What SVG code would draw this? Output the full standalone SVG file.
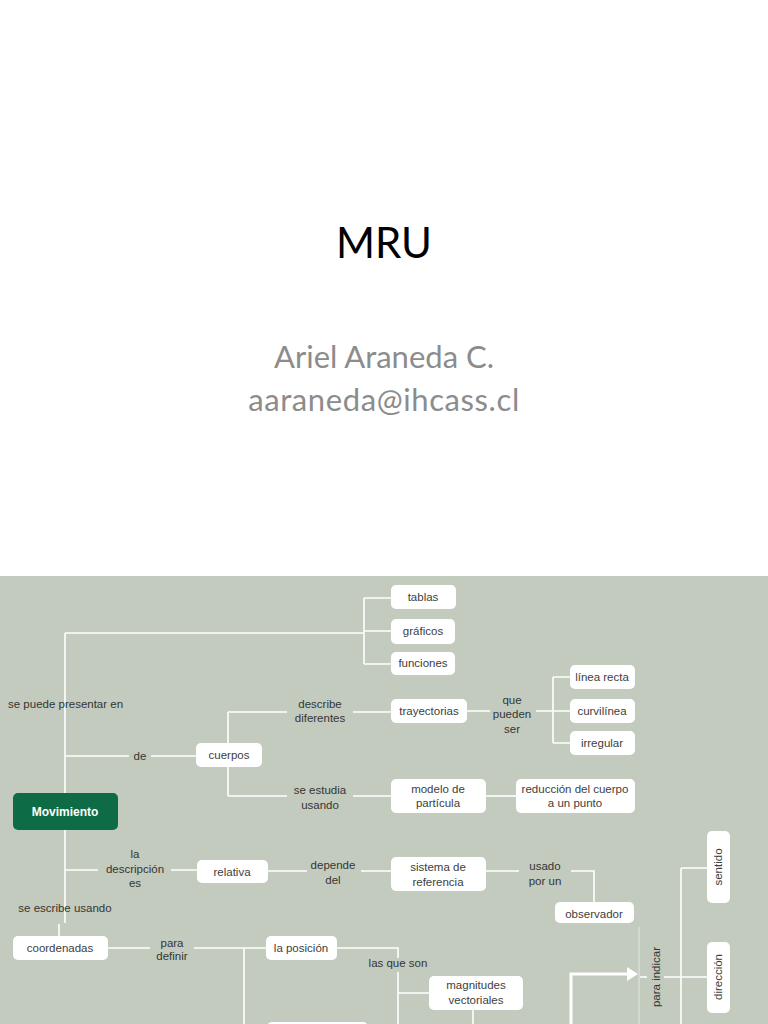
<svg xmlns="http://www.w3.org/2000/svg" width="768" height="1024" viewBox="0 0 768 1024">
<style>
.title{font-family:Lato,"Liberation Sans",sans-serif;fill:#000;font-size:42px;text-anchor:middle}
.sub{font-family:Lato,"Liberation Sans",sans-serif;fill:#8c8c8c;font-size:31px;text-anchor:middle}
.box{fill:#fff}
.t{font-family:"Liberation Sans",Arial,sans-serif;font-size:11.5px;fill:#404040;text-anchor:middle}
.lbl{font-family:"Liberation Sans",Arial,sans-serif;font-size:11.5px;fill:#353535;text-anchor:middle}
.ln{stroke:#fff;stroke-width:1.6;fill:none}
</style>
<rect x="0" y="0" width="768" height="576" fill="#fff"/>
<text class="title" x="384" y="258">MRU</text>
<text class="sub" x="384" y="368">Ariel Araneda C.</text>
<text class="sub" x="384" y="411" letter-spacing="0.6">aaraneda@ihcass.cl</text>
<rect x="0" y="576" width="768" height="448" fill="#c2cbbe"/>
<g id="connectors">
<path class="ln" d="M65 633 H364 M364 598 V664 M364 598 H391 M364 631 H391 M364 664 H391"/>
<path class="ln" d="M65 633 V923 M59 924 V936"/>
<path class="ln" d="M65 756 H129 M151 756 H196"/>
<path class="ln" d="M228 712 V796 M228 712 H287 M353 712 H391 M228 796 H287 M353 796 H391"/>
<path class="ln" d="M467 711 H490 M536 711 H553 M553 677 V743 M553 677 H570 M553 711 H570 M553 743 H570"/>
<path class="ln" d="M486 796 H516"/>
<path class="ln" d="M65 870 H98 M171 870 H197"/>
<path class="ln" d="M268 871 H307 M361 871 H391"/>
<path class="ln" d="M486 871 H519 M571 871 H594 V902"/>
<path class="ln" d="M108 948 H150 M194 948 H266 M244 948 V1024"/>
<path class="ln" d="M337 948 H398 V958 M398 972 V1024 M398 993 H429 M473 1010 V1024"/>
<path d="M639 927 V1024" stroke="#e3e8e0" stroke-width="1" fill="none"/>
<path d="M571 1024 V974 H629" stroke="#fff" stroke-width="3" fill="none"/>
<polygon points="627,967 638,974 627,981" fill="#fff"/>
<path class="ln" d="M640 977 H647 M664 977 H707 M681 868 V1024 M681 868 H707"/>
</g>
<g id="tablas"><rect class="box" x="391" y="585" width="65" height="24" rx="5"/><text class="t" x="423" y="601">tablas</text></g>
<g id="graficos"><rect class="box" x="391" y="619" width="64" height="25" rx="5"/><text class="t" x="423" y="635">gráficos</text></g>
<g id="funciones"><rect class="box" x="391" y="652" width="64" height="23" rx="5"/><text class="t" x="423" y="667">funciones</text></g>
<g id="trayectorias"><rect class="box" x="391" y="699" width="76" height="24" rx="5"/><text class="t" x="429" y="715">trayectorias</text></g>
<g id="linea-recta"><rect class="box" x="570" y="665" width="65" height="24" rx="5"/><text class="t" x="602" y="681">línea recta</text></g>
<g id="curvilinea"><rect class="box" x="570" y="699" width="65" height="24" rx="5"/><text class="t" x="602" y="715">curvilínea</text></g>
<g id="irregular"><rect class="box" x="570" y="731" width="65" height="24" rx="5"/><text class="t" x="602" y="747">irregular</text></g>
<g id="modelo"><rect class="box" x="391" y="779" width="95" height="34" rx="5"/><text class="t" x="438" y="793">modelo de</text><text class="t" x="438" y="807">partícula</text></g>
<g id="reduccion"><rect class="box" x="516" y="779" width="119" height="34" rx="5"/><text class="t" x="575" y="793">reducción del cuerpo</text><text class="t" x="575" y="807">a un punto</text></g>
<g id="cuerpos"><rect class="box" x="196" y="743" width="66" height="24" rx="5"/><text class="t" x="229" y="759">cuerpos</text></g>
<g id="movimiento"><rect x="13" y="793" width="105" height="37" rx="5" fill="#0d6b45"/><text x="65" y="816" font-family="'Liberation Sans',Arial,sans-serif" font-size="12" font-weight="bold" fill="#fff" text-anchor="middle">Movimiento</text></g>
<g id="relativa"><rect class="box" x="197" y="860" width="71" height="23" rx="5"/><text class="t" x="232" y="876">relativa</text></g>
<g id="sistema"><rect class="box" x="391" y="857" width="95" height="34" rx="5"/><text class="t" x="438" y="871">sistema de</text><text class="t" x="438" y="886">referencia</text></g>
<g id="observador"><rect class="box" x="555" y="902" width="79" height="21" rx="5"/><text class="t" x="594" y="918">observador</text></g>
<g id="coordenadas"><rect class="box" x="13" y="936" width="95" height="24" rx="5"/><text class="t" x="60" y="952">coordenadas</text></g>
<g id="posicion"><rect class="box" x="266" y="936" width="71" height="24" rx="5"/><text class="t" x="301" y="952">la posición</text></g>
<g id="magnitudes"><rect class="box" x="429" y="976" width="94" height="34" rx="5"/><text class="t" x="476" y="989">magnitudes</text><text class="t" x="476" y="1004">vectoriales</text></g>
<g id="bottom-box"><rect class="box" x="267" y="1022" width="101" height="10" rx="5"/></g>
<g id="sentido"><rect class="box" x="707" y="831" width="23" height="72" rx="5"/><text class="t" transform="translate(722 867) rotate(-90)" x="0" y="0">sentido</text></g>
<g id="direccion"><rect class="box" x="707" y="942" width="23" height="71" rx="5"/><text class="t" transform="translate(722 977) rotate(-90)" x="0" y="0">dirección</text></g>
<g id="labels">
<text class="lbl" x="8" y="708" style="text-anchor:start">se puede presentar en</text>
<text class="lbl" x="140" y="760">de</text>
<text class="lbl" x="320" y="708">describe</text><text class="lbl" x="320" y="722">diferentes</text>
<text class="lbl" x="320" y="794">se estudia</text><text class="lbl" x="320" y="809">usando</text>
<text class="lbl" x="512" y="704">que</text><text class="lbl" x="512" y="718">pueden</text><text class="lbl" x="512" y="733">ser</text>
<text class="lbl" x="135" y="858">la</text><text class="lbl" x="135" y="873">descripción</text><text class="lbl" x="135" y="887">es</text>
<text class="lbl" x="333" y="869">depende</text><text class="lbl" x="333" y="884">del</text>
<text class="lbl" x="545" y="870">usado</text><text class="lbl" x="545" y="885">por un</text>
<text class="lbl" x="65" y="912">se escribe usando</text>
<text class="lbl" x="172" y="947">para</text><text class="lbl" x="172" y="960">definir</text>
<text class="lbl" x="398" y="967">las que son</text>
<text class="lbl" transform="translate(660 977) rotate(-90)" x="0" y="0">para indicar</text>
</g>
</svg>
